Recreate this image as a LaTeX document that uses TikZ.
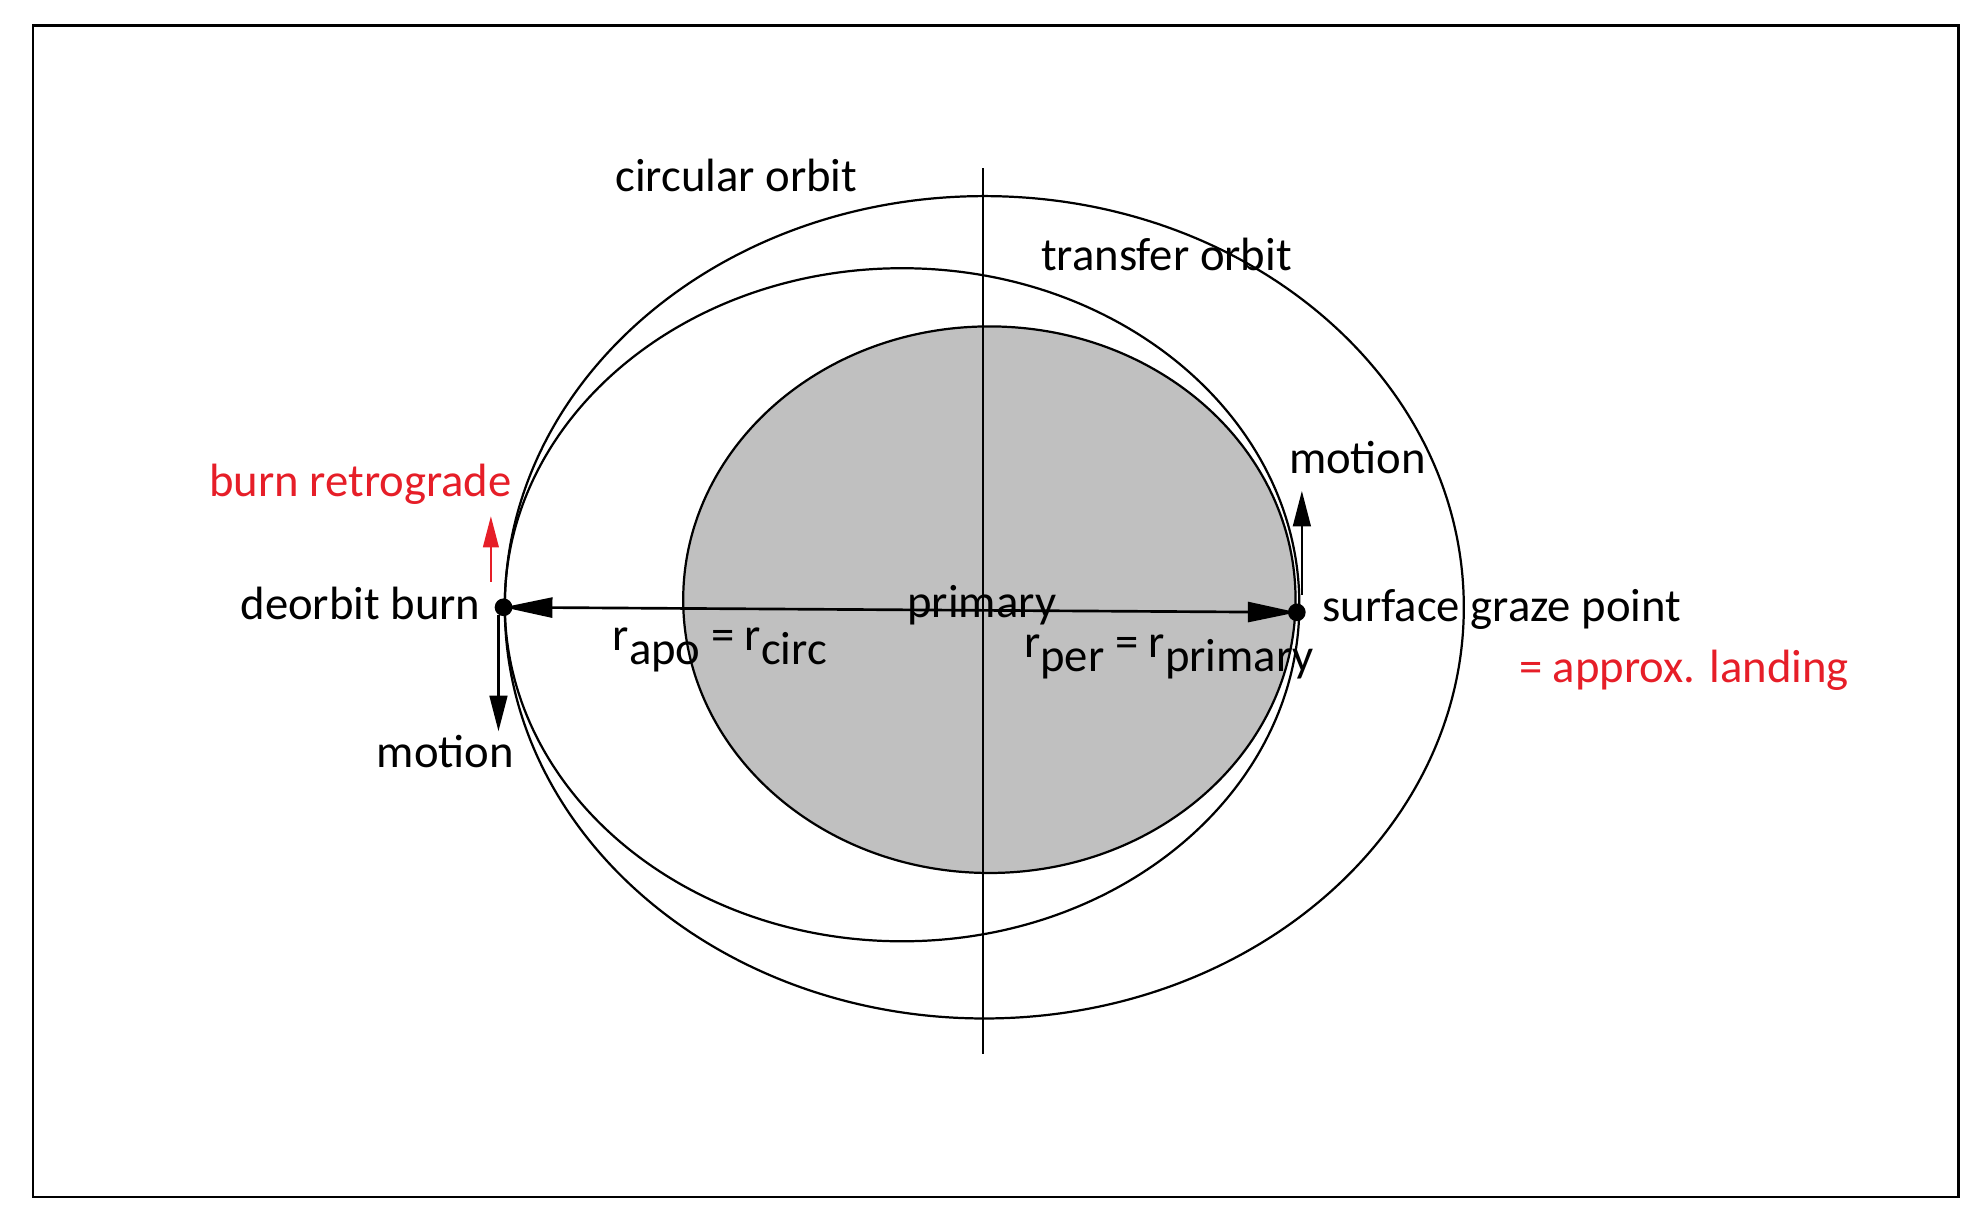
\documentclass[tikz,border=0pt]{standalone}
\usepackage{fontspec}
\setmainfont{Carlito}
\usetikzlibrary{arrows.meta}
\definecolor{redt}{RGB}{230,30,40}
\newcommand{\lowsub}[1]{\raisebox{-0.3em}{#1}}
\begin{document}
\begin{tikzpicture}[x=0.02cm,y=-0.02cm,
  lbl/.style={font=\fontsize{21}{24}\selectfont,inner sep=0pt},
  arr/.style={-{Triangle[length=16pt,width=8pt]},line width=1pt},
  orb/.style={line width=1pt}]
\useasboundingbox (0,0) rectangle (1565,966);
\draw[line width=1.2pt] (26,20) rectangle (1548,946);
\draw[orb,fill={rgb,255:red,192;green,192;blue,192}] (782,474) ellipse [x radius=242,y radius=216];
\draw[orb] (778,480) ellipse [x radius=379,y radius=325];
\draw[orb] (713,478) ellipse [x radius=314,y radius=266];
\draw[line width=0.5pt] (777,133) -- (777,833);
\coordinate (A) at (398,480);
\coordinate (P) at (1025,484);
\draw[line width=1.2pt,{Triangle[length=22pt,width=9pt]}-{Triangle[length=22pt,width=9pt]}] (A) -- (P);
\fill (A) circle (7); \fill (P) circle (7);
\draw[arr] (394,486) -- (394,578);
\draw[arr] (1029,470) -- (1029,388);
\draw[arr,draw=redt,fill=redt,-{Triangle[length=14pt,width=7pt,fill=redt]}] (388,460) -- (388,408);
\node[lbl] (c) at (582,139) {circular orbit};
\node[lbl] (t) at (922,201) {transfer orbit};
\node[lbl] (m1) at (1073,362) {motion};
\node[lbl,text=redt] (b) at (285,383) {burn retrograde};
\node[lbl] (d) at (285,477) {deorbit burn};
\node[lbl] (p) at (776,478) {primary};
\node[lbl] (s) at (1187,482) {surface graze point};
\node[lbl,text=redt] (l) at (1331,530) {= approx. landing};
\node[lbl] (m2) at (352,594) {motion};
\node[lbl] (ra) at (569,514) {r\lowsub{apo} = r\lowsub{circ}};
\node[lbl] (rp) at (924,519) {r\lowsub{per} = r\lowsub{primary}};
\end{tikzpicture}
\end{document}
